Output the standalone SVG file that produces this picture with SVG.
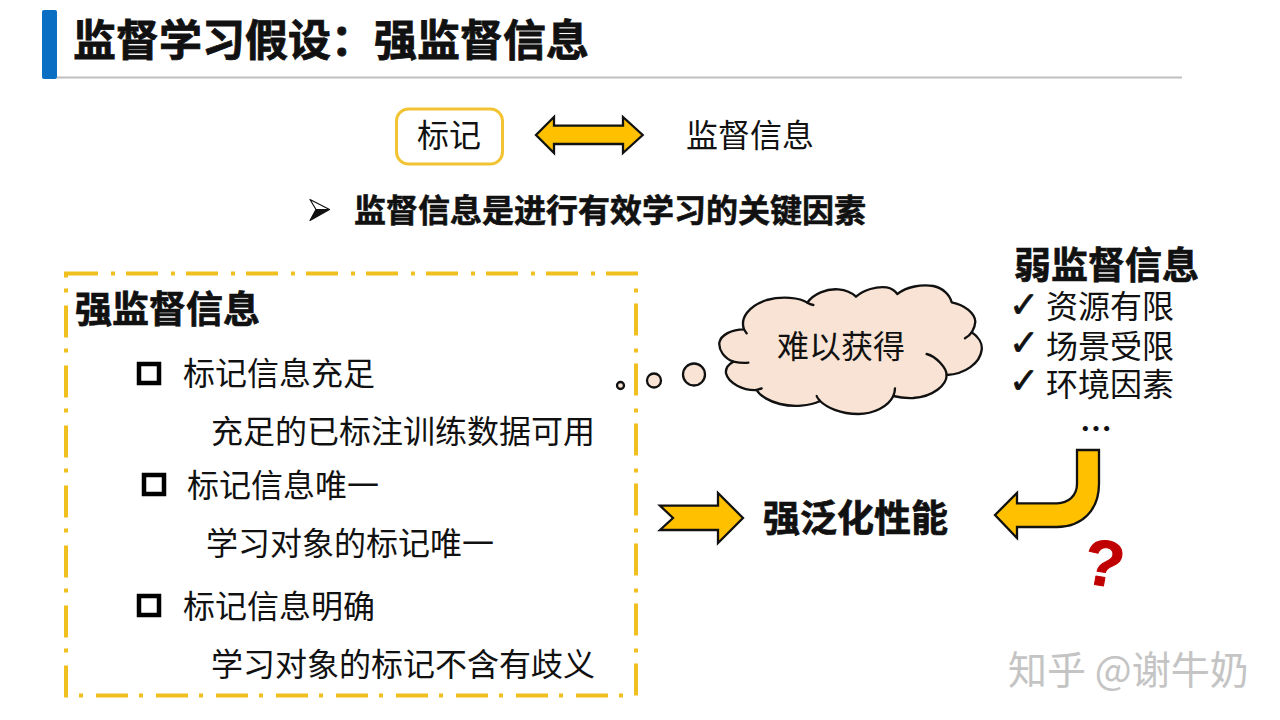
<svg xmlns="http://www.w3.org/2000/svg" width="1280" height="720" viewBox="0 0 1280 720">
<style>
text{font-family:"Noto Sans CJK SC","Noto Sans",sans-serif;fill:#111}
.t{font-size:32px}
.h{font-size:37px;font-weight:700;stroke:#111;stroke-width:.7}
.b{font-size:32px;font-weight:700;stroke:#111;stroke-width:.6}
.arrow{fill:#FFC000;stroke:#111;stroke-width:2.3;stroke-linejoin:miter}
.cl{fill:#F8E3D4;stroke:#111;stroke-width:2.3;stroke-linecap:round;stroke-linejoin:round}
.sq{fill:none;stroke:#000;stroke-width:4.5}
.sym{font-family:"DejaVu Sans",sans-serif;font-size:36px;stroke:#111;stroke-width:.7}
</style>
<rect width="1280" height="720" fill="#fff"/>
<g id="header">
<rect x="42" y="10" width="15" height="69" rx="2" fill="#0A6FC2"/>
<line x1="57" y1="77.500" x2="1182" y2="77.500" stroke="#BFBFBF" stroke-width="2"/>
<text x="73" y="56" style="font-size:43px;font-weight:700;stroke:#111;stroke-width:.8">监督学习假设：强监督信息</text>
</g>
<g id="node-label">
<rect x="396.500" y="109" width="106" height="55" rx="12" fill="#fff" stroke="#F2C433" stroke-width="3"/>
<text class="t" x="417" y="147">标记</text>
</g>
<g id="node-info"><text class="t" x="686" y="147">监督信息</text></g>
<g id="node-key">
<path d="M310 199.500L329.500 209.500H316Z" fill="#fff" stroke="#111" stroke-width="1.200" stroke-linejoin="round"/>
<path d="M310 220.500L329.500 209.500H316Z" fill="#111" stroke="#111" stroke-width="1.200" stroke-linejoin="round"/>
<text class="b" x="354" y="222">监督信息是进行有效学习的关键因素</text>
</g>
<g id="node-strong">
<rect x="66" y="273.500" width="570" height="422" fill="none" stroke="#F0C020" stroke-width="4" stroke-dasharray="32 13 4 11"/>
<text class="h" x="75" y="323">强监督信息</text>
<rect class="sq" x="139" y="364" width="20" height="19"/>
<text class="t" x="183" y="385">标记信息充足</text>
<text class="t" x="211" y="443">充足的已标注训练数据可用</text>
<rect class="sq" x="144" y="475" width="20" height="19"/>
<text class="t" x="187" y="497">标记信息唯一</text>
<text class="t" x="206" y="555">学习对象的标记唯一</text>
<rect class="sq" x="139" y="596" width="20" height="19"/>
<text class="t" x="183" y="618">标记信息明确</text>
<text class="t" x="211" y="676">学习对象的标记不含有歧义</text>
</g>
<g id="node-cloud">
<circle class="cl" cx="620.500" cy="385.500" r="3.500"/>
<circle class="cl" cx="654" cy="380.500" r="7"/>
<circle class="cl" cx="694" cy="374.500" r="11"/>
<g transform="translate(600 270) scale(.33333)">
<path class="cl" style="stroke-width:7" d="M400 275C372 265 356 240 358 218C362 195 395 178 432 178C420 145 445 108 500 90C545 78 600 82 622 98C640 72 680 55 715 58C740 60 758 70 768 80C790 60 830 48 860 52C875 55 885 62 892 72C920 50 965 42 1000 48C1030 55 1050 75 1055 97C1095 105 1125 130 1126 155C1125 172 1120 178 1115 187C1135 200 1148 220 1145 240C1140 280 1095 312 1040 315C1040 345 1000 380 940 384C915 385 895 382 880 378C865 410 820 432 775 432C720 432 680 412 660 393C630 408 580 412 540 402C510 395 480 378 470 360C430 362 385 340 378 310C376 295 385 283 400 275Z"/>
<path class="cl" style="stroke-width:7;fill:none" d="M400 275C415 278 430 280 445 278M432 178L440 190M622 98C628 102 634 104 640 105M1115 187C1110 195 1103 200 1095 205M1040 315C1040 295 1010 260 980 252M880 378C883 370 885 362 885 355M660 393C656 388 652 384 650 378M470 360C475 358 480 357 485 355"/>
</g>
<text class="t" x="777" y="358">难以获得</text>
</g>
<g id="node-weak">
<text class="h" x="1014" y="279">弱监督信息</text>
<text class="sym" x="1009" y="317">✓</text>
<text class="t" x="1046" y="318">资源有限</text>
<text class="sym" x="1009" y="355">✓</text>
<text class="t" x="1046" y="358">场景受限</text>
<text class="sym" x="1009" y="393">✓</text>
<text class="t" x="1046" y="396">环境因素</text>
<text class="t" x="1080" y="441" style="font-weight:700">…</text>
</g>
<g id="node-perf"><text class="h" x="763" y="532">强泛化性能</text></g>
<g id="connectors">
<path class="arrow" d="M536 135L554 117V125.700H623V117L642.700 135L623 153V144H554V153Z"/>
<path class="arrow" d="M660 505.700H718V493L743 518L718 543V530H660L673 518Z"/>
<path class="arrow" d="M995 515L1017 493V503.300H1057C1068 503 1077 496 1077 484V450H1099V484C1099 510 1082 527 1057 527H1017V538Z"/>
</g>
<g id="node-question"><text x="1084" y="586" transform="rotate(10 1105 565)" style="font-family:'Liberation Sans',sans-serif;font-size:65px;font-weight:700;fill:#C00000;stroke:#C00000;stroke-width:1;stroke-linejoin:round">?</text></g>
<g id="watermark"><text x="1008" y="684" style="font-size:39px;fill:#C4C4C4">知乎 @谢牛奶</text></g>
</svg>
